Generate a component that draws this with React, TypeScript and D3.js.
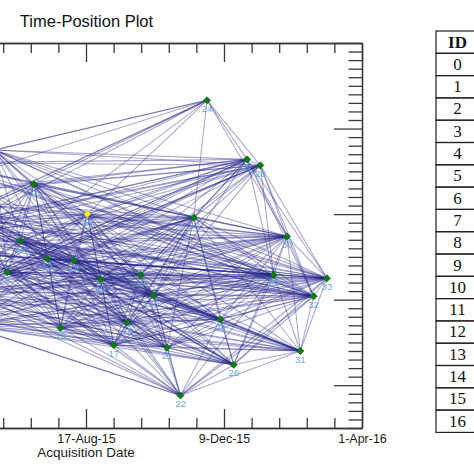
import { useEffect, useRef } from "react";
import * as d3 from "d3";

// acquisitions: id, date, perpendicular position
const acquisitionIds = [
  0, 1, 2, 3, 4, 5, 6, 7, 8, 9, 10, 11, 12, 13, 14, 15, 16,
  17, 18, 19, 20, 21, 22, 23, 24, 25, 26, 27, 28, 29, 30, 31, 32, 33,
];
const acquisitionDates = [
  "2015-03-06", "2015-03-17", "2015-03-28", "2015-04-08", "2015-04-19", "2015-04-30",
  "2015-05-11", "2015-05-22", "2015-06-02", "2015-06-13", "2015-06-24", "2015-07-05",
  "2015-07-16", "2015-07-27", "2015-08-07", "2015-08-18", "2015-08-29", "2015-09-09",
  "2015-09-20", "2015-10-01", "2015-10-12", "2015-10-23", "2015-11-03", "2015-11-14",
  "2015-11-25", "2015-12-06", "2015-12-17", "2015-12-28", "2016-01-08", "2016-01-19",
  "2016-01-30", "2016-02-10", "2016-02-21", "2016-03-03",
];
const positions = [
  -40, 20, -110, -20, 60, -90, -130, -5, 75,
  -68, -31, 35, -52, -133, -54, 0, -76,
  -153, -127, -71, -95, -156, -212, -4, 133,
  -123, -176, 64, 57, -71, -26, -160, -96, -75,
];
const masterId = 15;
const maxPositionGap = 175;

// axes
const xDomain = ["2015-01-01", "2016-04-01"];
const xMajorDates = ["2015-01-01", "2015-04-25", "2015-08-17", "2015-12-09", "2016-04-01"];
const xTickLabels = ["1-Jan-15", "25-Apr-15", "17-Aug-15", "9-Dec-15", "1-Apr-16"];
const yDomain = [-250, 200];
const yMajorTicks = [-200, -100, 0, 100, 200];

// side table
const tableHeader = "ID";
const tableIds = acquisitionIds.slice(0, 17);

const parseDate = d3.utcParse("%Y-%m-%d");
const SANS = "'Liberation Sans', Arial, Helvetica, sans-serif";
const SERIF = "'Liberation Serif', 'DejaVu Serif', serif";

export default function App() {
  const ref = useRef<SVGSVGElement | null>(null);

  useEffect(() => {
    const el = ref.current;
    if (!el) return;
    const svg = d3.select(el);
    svg.selectAll("*").remove();

    const plot = { left: -190, right: 362, top: 43, bottom: 428 };

    const x = d3.scaleUtc()
      .domain(xDomain.map(d => parseDate(d) as Date))
      .range([plot.left, plot.right]);
    const y = d3.scaleLinear().domain(yDomain).range([plot.bottom, plot.top]);

    const nodes = acquisitionIds.map((id, i) => ({
      id,
      date: parseDate(acquisitionDates[i]) as Date,
      pos: positions[i],
    }));

    // ── Interferometric pairs ───────────────────────────────────
    const pairs: [typeof nodes[0], typeof nodes[0]][] = [];
    nodes.forEach((a, i) => {
      nodes.slice(i + 1).forEach(b => {
        if (Math.abs(a.pos - b.pos) <= maxPositionGap) pairs.push([a, b]);
      });
    });

    svg.append("defs").append("clipPath").attr("id", "plotClip")
      .append("rect")
      .attr("x", plot.left).attr("y", plot.top)
      .attr("width", plot.right - plot.left).attr("height", plot.bottom - plot.top);

    const body = svg.append("g").attr("clip-path", "url(#plotClip)");

    body.append("g")
      .selectAll("line")
      .data(pairs)
      .enter()
      .append("line")
      .attr("x1", d => x(d[0].date))
      .attr("y1", d => y(d[0].pos))
      .attr("x2", d => x(d[1].date))
      .attr("y2", d => y(d[1].pos))
      .attr("stroke", "#22228a")
      .attr("stroke-opacity", 0.4)
      .attr("stroke-width", 1.05);

    // ── Node labels and markers (only those inside the view) ────
    const shown = nodes.filter(d => x(d.date) >= 0);

    body.append("g")
      .selectAll("text")
      .data(shown)
      .enter()
      .append("text")
      .attr("x", d => x(d.date))
      .attr("y", d => y(d.pos) + 11.5)
      .attr("text-anchor", "middle")
      .style("font-family", SANS)
      .style("font-size", "9.5px")
      .style("fill", "#6aa8dc")
      .text(d => d.id);

    const diamond = d3.symbol().type(d3.symbolDiamond2).size(32);
    body.append("g")
      .selectAll("path")
      .data(nodes)
      .enter()
      .append("path")
      .attr("transform", d => `translate(${x(d.date)},${y(d.pos)})`)
      .attr("d", diamond)
      .attr("fill", d => (d.id === masterId ? "#f2f21a" : "#0a7a14"))
      .attr("stroke", d => (d.id === masterId ? "#c8c800" : "#0a6a10"))
      .attr("stroke-width", 0.8);

    // ── Axes box ────────────────────────────────────────────────
    const majorDates = xMajorDates.map(d => parseDate(d) as Date);
    const minorDates: Date[] = [];
    majorDates.slice(1).forEach((d, i) => {
      const start = majorDates[i].getTime();
      const step = (d.getTime() - start) / 5;
      for (let k = 1; k < 5; k++) minorDates.push(new Date(start + k * step));
    });
    const yMinorTicks = d3.range(yDomain[0], yDomain[1] + 1, 10).filter(v => !yMajorTicks.includes(v));

    const styleAxis = (sel: d3.Selection<SVGGElement, unknown, null, undefined>) => {
      sel.selectAll("path, line").attr("stroke", "#3a3a3a").attr("stroke-width", 1.3);
    };

    // tick labels only where the axis is in view
    const labelFor = (d: Date | d3.NumberValue, i: number) =>
      x(d as Date) >= 0 ? xTickLabels[i] : "";

    const bottom = svg.append("g").attr("transform", `translate(0,${plot.bottom})`);
    bottom.append("g")
      .call(d3.axisBottom(x).tickValues(minorDates).tickSizeInner(-10).tickSizeOuter(0).tickFormat(() => ""))
      .call(styleAxis);
    bottom.append("g")
      .call(d3.axisBottom(x).tickValues(majorDates).tickSizeInner(-19).tickSizeOuter(0).tickPadding(6)
        .tickFormat(labelFor))
      .call(styleAxis)
      .call(g => g.selectAll("text")
        .style("font-family", SANS)
        .style("font-size", "12.5px")
        .style("fill", "#1a1a1a"));

    const top = svg.append("g").attr("transform", `translate(0,${plot.top})`);
    top.append("g")
      .call(d3.axisTop(x).tickValues(minorDates).tickSizeInner(-10).tickSizeOuter(0).tickFormat(() => ""))
      .call(styleAxis);
    top.append("g")
      .call(d3.axisTop(x).tickValues(majorDates).tickSizeInner(-19).tickSizeOuter(0).tickFormat(() => ""))
      .call(styleAxis);

    const right = svg.append("g").attr("transform", `translate(${plot.right},0)`);
    right.append("g")
      .call(d3.axisRight(y).tickValues(yMinorTicks).tickSizeInner(-13.5).tickSizeOuter(0).tickFormat(() => ""))
      .call(styleAxis);
    right.append("g")
      .call(d3.axisRight(y).tickValues(yMajorTicks).tickSizeInner(-28).tickSizeOuter(0).tickFormat(() => ""))
      .call(styleAxis);

    // ── Titles ──────────────────────────────────────────────────
    const midX = (plot.left + plot.right) / 2;
    svg.append("text")
      .attr("x", midX + 0.5)
      .attr("y", 27)
      .attr("text-anchor", "middle")
      .style("font-family", SANS)
      .style("font-size", "16.5px")
      .style("fill", "#111")
      .text("Time-Position Plot");

    svg.append("text")
      .attr("x", midX)
      .attr("y", 457)
      .attr("text-anchor", "middle")
      .style("font-family", SANS)
      .style("font-size", "13.5px")
      .style("fill", "#1a1a1a")
      .text("Acquisition Date");

    // ── ID table ────────────────────────────────────────────────
    const table = { x: 436, y: 31, w: 46, rowH: 22.3 };
    const rows = [tableHeader, ...tableIds.map(String)];
    const tg = svg.append("g");
    rows.forEach((label, i) => {
      tg.append("rect")
        .attr("x", table.x)
        .attr("y", table.y + i * table.rowH)
        .attr("width", table.w)
        .attr("height", table.rowH)
        .attr("fill", "none")
        .attr("stroke", "#222")
        .attr("stroke-width", 1.2);
      tg.append("text")
        .attr("x", table.x + 21.5)
        .attr("y", table.y + i * table.rowH + 16.5)
        .attr("text-anchor", "middle")
        .style("font-family", SERIF)
        .style("font-size", "17px")
        .style("font-weight", i === 0 ? "700" : "400")
        .style("fill", "#111")
        .text(label);
    });

    return () => { svg.selectAll("*").remove(); };
  }, []);

  return (
    <div style={{ position: "absolute", left: 0, top: 0, width: 474, height: 474, background: "#fff" }}>
      <svg ref={ref} width={474} height={474} style={{ display: "block" }} />
    </div>
  );
}
